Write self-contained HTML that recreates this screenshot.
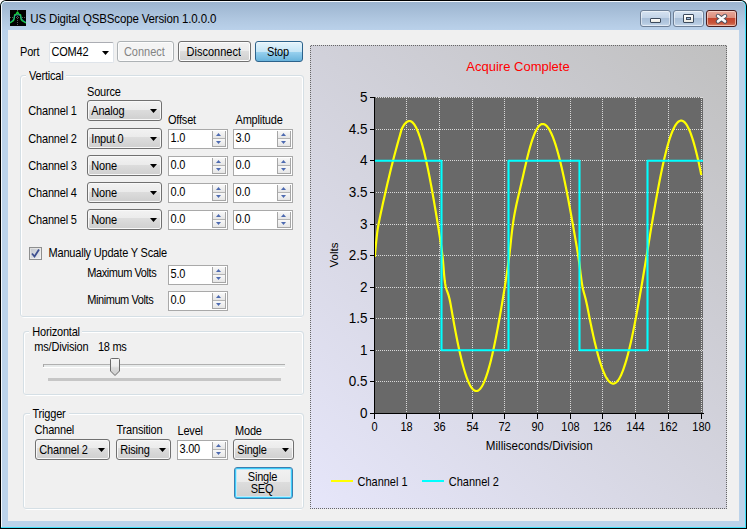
<!DOCTYPE html>
<html><head><meta charset="utf-8"><style>
html,body{margin:0;padding:0;width:747px;height:529px;overflow:hidden;background:#fff}
.t{position:absolute;white-space:nowrap;font-family:"Liberation Sans", sans-serif}
div{box-sizing:content-box}
</style></head><body>
<div style="position:absolute;left:0px;top:0px;width:747px;height:529px;background:#000;border-radius:6px 6px 0 0"></div><div style="position:absolute;left:1px;top:1px;width:745px;height:527px;background:#3fe0f8;border-radius:5px 5px 0 0"></div><div style="position:absolute;left:1px;top:1px;width:744px;height:526px;background:#f4f8fc;border-radius:5px 5px 0 0"></div><div style="position:absolute;left:2px;top:2px;width:743px;height:525px;background:linear-gradient(#9cb4cf 0px,#b3cae3 20px,#bad1ea 28px,#bcd3ea 40px);border-radius:4px 4px 0 0"></div><div style="position:absolute;left:8px;top:30px;width:731px;height:491px;background:#f0f0f0"></div><svg style="position:absolute;left:10px;top:10px" width="16" height="16" viewBox="0 0 16 16">
<rect width="16" height="16" fill="#000"/>
<line x1="0" y1="7.5" x2="16" y2="7.5" stroke="#5a5a5a" stroke-dasharray="1 1"/>
<line x1="7.5" y1="0" x2="7.5" y2="16" stroke="#5a5a5a" stroke-dasharray="1 1"/>
<path d="M0,12.8 L3,11 L4,9.5 L4.6,5 L6,4.3 L7.5,2 L9,4.3 L10.6,5 L11.2,9.5 L12.5,11 L16,12.8" fill="none" stroke="#19d23a" stroke-width="1.4" stroke-linejoin="round"/>
<path d="M0.5,12 L3,10 L4,8.5 L4.8,5.5 L6,5 L9,5 L10.4,5.5 L11.2,8.5 L12.5,10 L15.5,12" fill="none" stroke="#2a9ec0" stroke-width="0.7"/>
</svg><div class="t" style="left:30.3px;top:13.67px;font-size:11.5px;line-height:11.5px;color:#000;letter-spacing:-0.15px;transform-origin:0 9.73px;transform:scaleY(1.08);">US Digital QSBScope Version 1.0.0.0</div><div style="position:absolute;left:640px;top:10px;width:29px;height:15px;border:1px solid #6d7f96;border-radius:3px;background:linear-gradient(#d6e3f1 0%,#c3d4e8 45%,#a9bfd8 50%,#b3c8df 80%,#c8d9ec 100%);box-shadow:inset 0 0 0 1px rgba(255,255,255,0.5)"></div><div style="position:absolute;left:650px;top:18px;width:9px;height:3px;border:1px solid #3c4a5c;background:linear-gradient(#fff,#e8e8e0);border-radius:1px"></div><div style="position:absolute;left:673px;top:10px;width:29px;height:15px;border:1px solid #6d7f96;border-radius:3px;background:linear-gradient(#d6e3f1 0%,#c3d4e8 45%,#a9bfd8 50%,#b3c8df 80%,#c8d9ec 100%);box-shadow:inset 0 0 0 1px rgba(255,255,255,0.5)"></div><div style="position:absolute;left:683px;top:14px;width:9px;height:7px;border:1px solid #3c4a5c;background:linear-gradient(#fff,#ebebe4);border-radius:1px"></div><div style="position:absolute;left:686px;top:17px;width:3px;height:1px;border:1px solid #3c4a5c;background:#9cb8dc"></div><div style="position:absolute;left:706px;top:10px;width:29px;height:15px;border:1px solid #4a1c1c;border-radius:3px;background:linear-gradient(#e8a99c 0%,#dd8e7c 45%,#c5452e 50%,#c8553b 80%,#dc8a70 100%);box-shadow:inset 0 0 0 1px rgba(255,230,220,0.6)"></div><svg style="position:absolute;left:715px;top:13px" width="13" height="11" viewBox="0 0 13 11"><path d="M3,3 L10,8.4 M10,3 L3,8.4" stroke="#474c5c" stroke-width="4.4" stroke-linecap="round"/><path d="M3,3 L10,8.4 M10,3 L3,8.4" stroke="#fafafa" stroke-width="2.6" stroke-linecap="round"/></svg><div class="t" style="left:20.0px;top:46.69px;font-size:11px;line-height:11px;color:#000;letter-spacing:-0.2px;transform-origin:0 9.31px;transform:scaleY(1.12);">Port</div><div style="position:absolute;left:49px;top:42px;width:63px;height:19px;border:1px solid #dfe4ea;border-top-color:#abadb3;border-radius:2px;background:#fff"></div><div class="t" style="left:51.5px;top:46.69px;font-size:11px;line-height:11px;color:#000;letter-spacing:-0.2px;transform-origin:0 9.31px;transform:scaleY(1.12);">COM42</div><svg style="position:absolute;left:102px;top:51px" width="7" height="4" viewBox="0 0 7 4"><path d="M0,0 H7 L3.5,4 Z" fill="#000"/></svg><div style="position:absolute;left:117px;top:41px;width:55px;height:19px;border-radius:3px;border:1px solid #adb2b5;background:#f4f4f4;box-shadow:inset 0 0 0 1px #fcfcfc"></div><div class="t" style="left:84.4px;width:120px;text-align:center;top:46.69px;font-size:11px;line-height:11px;color:#838383;letter-spacing:0px;transform-origin:0 9.31px;transform:scaleY(1.12)">Connect</div><div style="position:absolute;left:178px;top:41px;width:71px;height:19px;border-radius:3px;border:1px solid #707070;background:linear-gradient(#f2f2f2 0%,#ebebeb 50%,#dddddd 50%,#cfcfcf 100%);box-shadow:inset 0 0 0 1px #fcfcfc"></div><div class="t" style="left:153.8px;width:120px;text-align:center;top:46.69px;font-size:11px;line-height:11px;color:#000;letter-spacing:0px;transform-origin:0 9.31px;transform:scaleY(1.12)">Disconnect</div><div style="position:absolute;left:255px;top:41px;width:46px;height:19px;border-radius:3px;border:1px solid #2c628b;background:linear-gradient(#e5f4fc 0px,#c4e5f6 10px,#98d1ef 10px,#68b3db 19px);box-shadow:inset 0 1px 0 0 #f0f8fc"></div><div class="t" style="left:218px;width:120px;text-align:center;top:46.69px;font-size:11px;line-height:11px;color:#000;letter-spacing:-0.2px;transform-origin:0 9.31px;transform:scaleY(1.12)">Stop</div><div style="position:absolute;left:21px;top:76px;width:280px;height:240px;border:1px solid #fff;border-radius:3px"></div><div style="position:absolute;left:20px;top:75px;width:282px;height:240px;border:1px solid #d5dfe5;border-radius:3px"></div><div style="position:absolute;left:26px;top:73px;width:40px;height:4px;background:#f0f0f0"></div><div class="t" style="left:29.0px;top:70.69px;font-size:11px;line-height:11px;color:#000;letter-spacing:-0.2px;transform-origin:0 9.31px;transform:scaleY(1.12);">Vertical</div><div class="t" style="left:87.0px;top:86.69px;font-size:11px;line-height:11px;color:#000;letter-spacing:-0.2px;transform-origin:0 9.31px;transform:scaleY(1.12);">Source</div><div class="t" style="left:168.0px;top:114.69px;font-size:11px;line-height:11px;color:#000;letter-spacing:-0.2px;transform-origin:0 9.31px;transform:scaleY(1.12);">Offset</div><div class="t" style="left:235.5px;top:114.69px;font-size:11px;line-height:11px;color:#000;letter-spacing:-0.2px;transform-origin:0 9.31px;transform:scaleY(1.12);">Amplitude</div><div class="t" style="left:28.3px;top:105.69px;font-size:11px;line-height:11px;color:#000;letter-spacing:-0.2px;transform-origin:0 9.31px;transform:scaleY(1.12);">Channel 1</div><div style="position:absolute;left:87px;top:100px;width:73px;height:19px;border-radius:3px;border:1px solid #707070;background:linear-gradient(#f2f2f2 0px,#ebebeb 8.5px,#dddddd 8.5px,#cfcfcf 19px);box-shadow:inset 0 0 0 1px #f8f8f8"></div><div class="t" style="left:91.3px;top:105.89px;font-size:11px;line-height:11px;color:#000;letter-spacing:-0.2px;transform-origin:0 9.31px;transform:scaleY(1.12);">Analog</div><svg style="position:absolute;left:150px;top:109px" width="7" height="4" viewBox="0 0 7 4"><path d="M0,0 H7 L3.5,4 Z" fill="#000"/></svg><div class="t" style="left:28.3px;top:133.69px;font-size:11px;line-height:11px;color:#000;letter-spacing:-0.2px;transform-origin:0 9.31px;transform:scaleY(1.12);">Channel 2</div><div style="position:absolute;left:87px;top:128px;width:73px;height:19px;border-radius:3px;border:1px solid #707070;background:linear-gradient(#f2f2f2 0px,#ebebeb 8.5px,#dddddd 8.5px,#cfcfcf 19px);box-shadow:inset 0 0 0 1px #f8f8f8"></div><div class="t" style="left:91.3px;top:133.89px;font-size:11px;line-height:11px;color:#000;letter-spacing:-0.2px;transform-origin:0 9.31px;transform:scaleY(1.12);">Input 0</div><svg style="position:absolute;left:150px;top:137px" width="7" height="4" viewBox="0 0 7 4"><path d="M0,0 H7 L3.5,4 Z" fill="#000"/></svg><div style="position:absolute;left:168px;top:129px;width:58px;height:18px;border:1px solid #a9a9a9;background:#fff"></div><div class="t" style="left:170.6px;top:133.29px;font-size:11px;line-height:11px;color:#000;letter-spacing:-0.3px;transform-origin:0 9.31px;transform:scaleY(1.12);">1.0</div><div style="position:absolute;left:212px;top:131px;width:12px;height:15px;border:1px solid #a6a6a6;border-top:none;background:#b4b4b4"></div><div style="position:absolute;left:213px;top:131px;width:12px;height:7px;background:linear-gradient(#f8f8f8,#e6e6e6)"></div><div style="position:absolute;left:213px;top:139px;width:12px;height:7px;background:linear-gradient(#f8f8f8,#e6e6e6)"></div><svg style="position:absolute;left:216px;top:133px" width="5" height="3" viewBox="0 0 5 3"><path d="M0,3 L2.5,0 L5,3 Z" fill="#4d6ab0"/></svg><svg style="position:absolute;left:216px;top:141px" width="5" height="3" viewBox="0 0 5 3"><path d="M0,0 L5,0 L2.5,3 Z" fill="#4d6ab0"/></svg><div style="position:absolute;left:233px;top:129px;width:58px;height:18px;border:1px solid #a9a9a9;background:#fff"></div><div class="t" style="left:235.6px;top:133.29px;font-size:11px;line-height:11px;color:#000;letter-spacing:-0.3px;transform-origin:0 9.31px;transform:scaleY(1.12);">3.0</div><div style="position:absolute;left:277px;top:131px;width:12px;height:15px;border:1px solid #a6a6a6;border-top:none;background:#b4b4b4"></div><div style="position:absolute;left:278px;top:131px;width:12px;height:7px;background:linear-gradient(#f8f8f8,#e6e6e6)"></div><div style="position:absolute;left:278px;top:139px;width:12px;height:7px;background:linear-gradient(#f8f8f8,#e6e6e6)"></div><svg style="position:absolute;left:281px;top:133px" width="5" height="3" viewBox="0 0 5 3"><path d="M0,3 L2.5,0 L5,3 Z" fill="#4d6ab0"/></svg><svg style="position:absolute;left:281px;top:141px" width="5" height="3" viewBox="0 0 5 3"><path d="M0,0 L5,0 L2.5,3 Z" fill="#4d6ab0"/></svg><div class="t" style="left:28.3px;top:160.69px;font-size:11px;line-height:11px;color:#000;letter-spacing:-0.2px;transform-origin:0 9.31px;transform:scaleY(1.12);">Channel 3</div><div style="position:absolute;left:87px;top:155px;width:73px;height:19px;border-radius:3px;border:1px solid #707070;background:linear-gradient(#f2f2f2 0px,#ebebeb 8.5px,#dddddd 8.5px,#cfcfcf 19px);box-shadow:inset 0 0 0 1px #f8f8f8"></div><div class="t" style="left:91.3px;top:160.89px;font-size:11px;line-height:11px;color:#000;letter-spacing:-0.2px;transform-origin:0 9.31px;transform:scaleY(1.12);">None</div><svg style="position:absolute;left:150px;top:164px" width="7" height="4" viewBox="0 0 7 4"><path d="M0,0 H7 L3.5,4 Z" fill="#000"/></svg><div style="position:absolute;left:168px;top:156px;width:58px;height:18px;border:1px solid #a9a9a9;background:#fff"></div><div class="t" style="left:170.6px;top:160.29px;font-size:11px;line-height:11px;color:#000;letter-spacing:-0.3px;transform-origin:0 9.31px;transform:scaleY(1.12);">0.0</div><div style="position:absolute;left:212px;top:158px;width:12px;height:15px;border:1px solid #a6a6a6;border-top:none;background:#b4b4b4"></div><div style="position:absolute;left:213px;top:158px;width:12px;height:7px;background:linear-gradient(#f8f8f8,#e6e6e6)"></div><div style="position:absolute;left:213px;top:166px;width:12px;height:7px;background:linear-gradient(#f8f8f8,#e6e6e6)"></div><svg style="position:absolute;left:216px;top:160px" width="5" height="3" viewBox="0 0 5 3"><path d="M0,3 L2.5,0 L5,3 Z" fill="#4d6ab0"/></svg><svg style="position:absolute;left:216px;top:168px" width="5" height="3" viewBox="0 0 5 3"><path d="M0,0 L5,0 L2.5,3 Z" fill="#4d6ab0"/></svg><div style="position:absolute;left:233px;top:156px;width:58px;height:18px;border:1px solid #a9a9a9;background:#fff"></div><div class="t" style="left:235.6px;top:160.29px;font-size:11px;line-height:11px;color:#000;letter-spacing:-0.3px;transform-origin:0 9.31px;transform:scaleY(1.12);">0.0</div><div style="position:absolute;left:277px;top:158px;width:12px;height:15px;border:1px solid #a6a6a6;border-top:none;background:#b4b4b4"></div><div style="position:absolute;left:278px;top:158px;width:12px;height:7px;background:linear-gradient(#f8f8f8,#e6e6e6)"></div><div style="position:absolute;left:278px;top:166px;width:12px;height:7px;background:linear-gradient(#f8f8f8,#e6e6e6)"></div><svg style="position:absolute;left:281px;top:160px" width="5" height="3" viewBox="0 0 5 3"><path d="M0,3 L2.5,0 L5,3 Z" fill="#4d6ab0"/></svg><svg style="position:absolute;left:281px;top:168px" width="5" height="3" viewBox="0 0 5 3"><path d="M0,0 L5,0 L2.5,3 Z" fill="#4d6ab0"/></svg><div class="t" style="left:28.3px;top:187.69px;font-size:11px;line-height:11px;color:#000;letter-spacing:-0.2px;transform-origin:0 9.31px;transform:scaleY(1.12);">Channel 4</div><div style="position:absolute;left:87px;top:182px;width:73px;height:19px;border-radius:3px;border:1px solid #707070;background:linear-gradient(#f2f2f2 0px,#ebebeb 8.5px,#dddddd 8.5px,#cfcfcf 19px);box-shadow:inset 0 0 0 1px #f8f8f8"></div><div class="t" style="left:91.3px;top:187.89px;font-size:11px;line-height:11px;color:#000;letter-spacing:-0.2px;transform-origin:0 9.31px;transform:scaleY(1.12);">None</div><svg style="position:absolute;left:150px;top:191px" width="7" height="4" viewBox="0 0 7 4"><path d="M0,0 H7 L3.5,4 Z" fill="#000"/></svg><div style="position:absolute;left:168px;top:183px;width:58px;height:18px;border:1px solid #a9a9a9;background:#fff"></div><div class="t" style="left:170.6px;top:187.29px;font-size:11px;line-height:11px;color:#000;letter-spacing:-0.3px;transform-origin:0 9.31px;transform:scaleY(1.12);">0.0</div><div style="position:absolute;left:212px;top:185px;width:12px;height:15px;border:1px solid #a6a6a6;border-top:none;background:#b4b4b4"></div><div style="position:absolute;left:213px;top:185px;width:12px;height:7px;background:linear-gradient(#f8f8f8,#e6e6e6)"></div><div style="position:absolute;left:213px;top:193px;width:12px;height:7px;background:linear-gradient(#f8f8f8,#e6e6e6)"></div><svg style="position:absolute;left:216px;top:187px" width="5" height="3" viewBox="0 0 5 3"><path d="M0,3 L2.5,0 L5,3 Z" fill="#4d6ab0"/></svg><svg style="position:absolute;left:216px;top:195px" width="5" height="3" viewBox="0 0 5 3"><path d="M0,0 L5,0 L2.5,3 Z" fill="#4d6ab0"/></svg><div style="position:absolute;left:233px;top:183px;width:58px;height:18px;border:1px solid #a9a9a9;background:#fff"></div><div class="t" style="left:235.6px;top:187.29px;font-size:11px;line-height:11px;color:#000;letter-spacing:-0.3px;transform-origin:0 9.31px;transform:scaleY(1.12);">0.0</div><div style="position:absolute;left:277px;top:185px;width:12px;height:15px;border:1px solid #a6a6a6;border-top:none;background:#b4b4b4"></div><div style="position:absolute;left:278px;top:185px;width:12px;height:7px;background:linear-gradient(#f8f8f8,#e6e6e6)"></div><div style="position:absolute;left:278px;top:193px;width:12px;height:7px;background:linear-gradient(#f8f8f8,#e6e6e6)"></div><svg style="position:absolute;left:281px;top:187px" width="5" height="3" viewBox="0 0 5 3"><path d="M0,3 L2.5,0 L5,3 Z" fill="#4d6ab0"/></svg><svg style="position:absolute;left:281px;top:195px" width="5" height="3" viewBox="0 0 5 3"><path d="M0,0 L5,0 L2.5,3 Z" fill="#4d6ab0"/></svg><div class="t" style="left:28.3px;top:214.69px;font-size:11px;line-height:11px;color:#000;letter-spacing:-0.2px;transform-origin:0 9.31px;transform:scaleY(1.12);">Channel 5</div><div style="position:absolute;left:87px;top:209px;width:73px;height:19px;border-radius:3px;border:1px solid #707070;background:linear-gradient(#f2f2f2 0px,#ebebeb 8.5px,#dddddd 8.5px,#cfcfcf 19px);box-shadow:inset 0 0 0 1px #f8f8f8"></div><div class="t" style="left:91.3px;top:214.89px;font-size:11px;line-height:11px;color:#000;letter-spacing:-0.2px;transform-origin:0 9.31px;transform:scaleY(1.12);">None</div><svg style="position:absolute;left:150px;top:218px" width="7" height="4" viewBox="0 0 7 4"><path d="M0,0 H7 L3.5,4 Z" fill="#000"/></svg><div style="position:absolute;left:168px;top:210px;width:58px;height:18px;border:1px solid #a9a9a9;background:#fff"></div><div class="t" style="left:170.6px;top:214.29px;font-size:11px;line-height:11px;color:#000;letter-spacing:-0.3px;transform-origin:0 9.31px;transform:scaleY(1.12);">0.0</div><div style="position:absolute;left:212px;top:212px;width:12px;height:15px;border:1px solid #a6a6a6;border-top:none;background:#b4b4b4"></div><div style="position:absolute;left:213px;top:212px;width:12px;height:7px;background:linear-gradient(#f8f8f8,#e6e6e6)"></div><div style="position:absolute;left:213px;top:220px;width:12px;height:7px;background:linear-gradient(#f8f8f8,#e6e6e6)"></div><svg style="position:absolute;left:216px;top:214px" width="5" height="3" viewBox="0 0 5 3"><path d="M0,3 L2.5,0 L5,3 Z" fill="#4d6ab0"/></svg><svg style="position:absolute;left:216px;top:222px" width="5" height="3" viewBox="0 0 5 3"><path d="M0,0 L5,0 L2.5,3 Z" fill="#4d6ab0"/></svg><div style="position:absolute;left:233px;top:210px;width:58px;height:18px;border:1px solid #a9a9a9;background:#fff"></div><div class="t" style="left:235.6px;top:214.29px;font-size:11px;line-height:11px;color:#000;letter-spacing:-0.3px;transform-origin:0 9.31px;transform:scaleY(1.12);">0.0</div><div style="position:absolute;left:277px;top:212px;width:12px;height:15px;border:1px solid #a6a6a6;border-top:none;background:#b4b4b4"></div><div style="position:absolute;left:278px;top:212px;width:12px;height:7px;background:linear-gradient(#f8f8f8,#e6e6e6)"></div><div style="position:absolute;left:278px;top:220px;width:12px;height:7px;background:linear-gradient(#f8f8f8,#e6e6e6)"></div><svg style="position:absolute;left:281px;top:214px" width="5" height="3" viewBox="0 0 5 3"><path d="M0,3 L2.5,0 L5,3 Z" fill="#4d6ab0"/></svg><svg style="position:absolute;left:281px;top:222px" width="5" height="3" viewBox="0 0 5 3"><path d="M0,0 L5,0 L2.5,3 Z" fill="#4d6ab0"/></svg><div style="position:absolute;left:29px;top:247px;width:11px;height:11px;border:1px solid #8e8f8f;background:linear-gradient(135deg,#dcdcdc,#f4f4f4)"></div><div style="position:absolute;left:31px;top:249px;width:9px;height:9px;background:linear-gradient(135deg,#c5c9d0,#e8eaee)"></div><svg style="position:absolute;left:30px;top:248px" width="11" height="11" viewBox="0 0 11 11"><path d="M2,5.5 L4.5,8.5 L9,1.5" fill="none" stroke="#3d4f8f" stroke-width="1.8"/></svg><div class="t" style="left:48.5px;top:247.69px;font-size:11px;line-height:11px;color:#000;letter-spacing:-0.2px;transform-origin:0 9.31px;transform:scaleY(1.12);">Manually Update Y Scale</div><div class="t" style="left:87.2px;top:267.69px;font-size:11px;line-height:11px;color:#000;letter-spacing:-0.42px;transform-origin:0 9.31px;transform:scaleY(1.12);">Maximum Volts</div><div style="position:absolute;left:168px;top:265px;width:58px;height:18px;border:1px solid #a9a9a9;background:#fff"></div><div class="t" style="left:170.6px;top:269.29px;font-size:11px;line-height:11px;color:#000;letter-spacing:-0.3px;transform-origin:0 9.31px;transform:scaleY(1.12);">5.0</div><div style="position:absolute;left:212px;top:267px;width:12px;height:15px;border:1px solid #a6a6a6;border-top:none;background:#b4b4b4"></div><div style="position:absolute;left:213px;top:267px;width:12px;height:7px;background:linear-gradient(#f8f8f8,#e6e6e6)"></div><div style="position:absolute;left:213px;top:275px;width:12px;height:7px;background:linear-gradient(#f8f8f8,#e6e6e6)"></div><svg style="position:absolute;left:216px;top:269px" width="5" height="3" viewBox="0 0 5 3"><path d="M0,3 L2.5,0 L5,3 Z" fill="#4d6ab0"/></svg><svg style="position:absolute;left:216px;top:277px" width="5" height="3" viewBox="0 0 5 3"><path d="M0,0 L5,0 L2.5,3 Z" fill="#4d6ab0"/></svg><div class="t" style="left:87.2px;top:294.69px;font-size:11px;line-height:11px;color:#000;letter-spacing:-0.42px;transform-origin:0 9.31px;transform:scaleY(1.12);">Minimum Volts</div><div style="position:absolute;left:168px;top:291px;width:58px;height:18px;border:1px solid #a9a9a9;background:#fff"></div><div class="t" style="left:170.6px;top:295.29px;font-size:11px;line-height:11px;color:#000;letter-spacing:-0.3px;transform-origin:0 9.31px;transform:scaleY(1.12);">0.0</div><div style="position:absolute;left:212px;top:293px;width:12px;height:15px;border:1px solid #a6a6a6;border-top:none;background:#b4b4b4"></div><div style="position:absolute;left:213px;top:293px;width:12px;height:7px;background:linear-gradient(#f8f8f8,#e6e6e6)"></div><div style="position:absolute;left:213px;top:301px;width:12px;height:7px;background:linear-gradient(#f8f8f8,#e6e6e6)"></div><svg style="position:absolute;left:216px;top:295px" width="5" height="3" viewBox="0 0 5 3"><path d="M0,3 L2.5,0 L5,3 Z" fill="#4d6ab0"/></svg><svg style="position:absolute;left:216px;top:303px" width="5" height="3" viewBox="0 0 5 3"><path d="M0,0 L5,0 L2.5,3 Z" fill="#4d6ab0"/></svg><div style="position:absolute;left:24px;top:332px;width:277px;height:62px;border:1px solid #fff;border-radius:3px"></div><div style="position:absolute;left:23px;top:331px;width:279px;height:62px;border:1px solid #d5dfe5;border-radius:3px"></div><div style="position:absolute;left:29.299999999999997px;top:329px;width:53px;height:4px;background:#f0f0f0"></div><div class="t" style="left:32.3px;top:326.69px;font-size:11px;line-height:11px;color:#000;letter-spacing:-0.2px;transform-origin:0 9.31px;transform:scaleY(1.12);">Horizontal</div><div class="t" style="left:34.3px;top:341.69px;font-size:11px;line-height:11px;color:#000;letter-spacing:-0.2px;transform-origin:0 9.31px;transform:scaleY(1.12);">ms/Division</div><div class="t" style="left:98.0px;top:341.69px;font-size:11px;line-height:11px;color:#000;letter-spacing:-0.3px;transform-origin:0 9.31px;transform:scaleY(1.12);">18 ms</div><div style="position:absolute;left:43px;top:364px;width:242px;height:4px;background:linear-gradient(#b0b0b0 0 1px,#e7eaea 1px 3px,#fff 3px)"></div><div style="position:absolute;left:43px;top:364px;width:1px;height:3px;background:#a8a8a8"></div><div style="position:absolute;left:48px;top:378px;width:233px;height:3px;background:#c6c6c6"></div><svg style="position:absolute;left:109px;top:357px" width="12" height="20" viewBox="0 0 12 20"><defs><linearGradient id="tg" x1="0" y1="0" x2="0" y2="1"><stop offset="0" stop-color="#f6f6f6"/><stop offset="0.45" stop-color="#ececec"/><stop offset="0.55" stop-color="#dadada"/><stop offset="1" stop-color="#d0d0d0"/></linearGradient></defs><path d="M1.5,2.5 Q1.5,1.5 2.5,1.5 H9.5 Q10.5,1.5 10.5,2.5 V14 L6,18.5 L1.5,14 Z" fill="url(#tg)" stroke="#6b6b6b" stroke-width="1"/></svg><div style="position:absolute;left:24px;top:414px;width:277px;height:94px;border:1px solid #fff;border-radius:3px"></div><div style="position:absolute;left:23px;top:413px;width:279px;height:94px;border:1px solid #d5dfe5;border-radius:3px"></div><div style="position:absolute;left:29.5px;top:411px;width:39px;height:4px;background:#f0f0f0"></div><div class="t" style="left:32.5px;top:409.19px;font-size:11px;line-height:11px;color:#000;letter-spacing:-0.2px;transform-origin:0 9.31px;transform:scaleY(1.12);">Trigger</div><div class="t" style="left:34.5px;top:424.69px;font-size:11px;line-height:11px;color:#000;letter-spacing:-0.2px;transform-origin:0 9.31px;transform:scaleY(1.12);">Channel</div><div class="t" style="left:116.5px;top:424.69px;font-size:11px;line-height:11px;color:#000;letter-spacing:-0.2px;transform-origin:0 9.31px;transform:scaleY(1.12);">Transition</div><div class="t" style="left:177.5px;top:425.69px;font-size:11px;line-height:11px;color:#000;letter-spacing:-0.2px;transform-origin:0 9.31px;transform:scaleY(1.12);">Level</div><div class="t" style="left:235.0px;top:425.69px;font-size:11px;line-height:11px;color:#000;letter-spacing:-0.2px;transform-origin:0 9.31px;transform:scaleY(1.12);">Mode</div><div style="position:absolute;left:35px;top:439px;width:73px;height:19px;border-radius:3px;border:1px solid #707070;background:linear-gradient(#f2f2f2 0px,#ebebeb 8.5px,#dddddd 8.5px,#cfcfcf 19px);box-shadow:inset 0 0 0 1px #f8f8f8"></div><div class="t" style="left:39.3px;top:444.89px;font-size:11px;line-height:11px;color:#000;letter-spacing:-0.2px;transform-origin:0 9.31px;transform:scaleY(1.12);">Channel 2</div><svg style="position:absolute;left:98px;top:448px" width="7" height="4" viewBox="0 0 7 4"><path d="M0,0 H7 L3.5,4 Z" fill="#000"/></svg><div style="position:absolute;left:116px;top:439px;width:53px;height:19px;border-radius:3px;border:1px solid #707070;background:linear-gradient(#f2f2f2 0px,#ebebeb 8.5px,#dddddd 8.5px,#cfcfcf 19px);box-shadow:inset 0 0 0 1px #f8f8f8"></div><div class="t" style="left:120.3px;top:444.89px;font-size:11px;line-height:11px;color:#000;letter-spacing:-0.2px;transform-origin:0 9.31px;transform:scaleY(1.12);">Rising</div><svg style="position:absolute;left:159px;top:448px" width="7" height="4" viewBox="0 0 7 4"><path d="M0,0 H7 L3.5,4 Z" fill="#000"/></svg><div style="position:absolute;left:177px;top:440px;width:49px;height:18px;border:1px solid #a9a9a9;background:#fff"></div><div class="t" style="left:179.6px;top:444.29px;font-size:11px;line-height:11px;color:#000;letter-spacing:-0.3px;transform-origin:0 9.31px;transform:scaleY(1.12);">3.00</div><div style="position:absolute;left:212px;top:442px;width:12px;height:15px;border:1px solid #a6a6a6;border-top:none;background:#b4b4b4"></div><div style="position:absolute;left:213px;top:442px;width:12px;height:7px;background:linear-gradient(#f8f8f8,#e6e6e6)"></div><div style="position:absolute;left:213px;top:450px;width:12px;height:7px;background:linear-gradient(#f8f8f8,#e6e6e6)"></div><svg style="position:absolute;left:216px;top:444px" width="5" height="3" viewBox="0 0 5 3"><path d="M0,3 L2.5,0 L5,3 Z" fill="#4d6ab0"/></svg><svg style="position:absolute;left:216px;top:452px" width="5" height="3" viewBox="0 0 5 3"><path d="M0,0 L5,0 L2.5,3 Z" fill="#4d6ab0"/></svg><div style="position:absolute;left:233px;top:439px;width:59px;height:19px;border-radius:3px;border:1px solid #707070;background:linear-gradient(#f2f2f2 0px,#ebebeb 8.5px,#dddddd 8.5px,#cfcfcf 19px);box-shadow:inset 0 0 0 1px #f8f8f8"></div><div class="t" style="left:237.3px;top:444.89px;font-size:11px;line-height:11px;color:#000;letter-spacing:-0.2px;transform-origin:0 9.31px;transform:scaleY(1.12);">Single</div><svg style="position:absolute;left:282px;top:448px" width="7" height="4" viewBox="0 0 7 4"><path d="M0,0 H7 L3.5,4 Z" fill="#000"/></svg><div style="position:absolute;left:234px;top:467px;width:57px;height:30px;border-radius:3px;border:1px solid #3c7fb1;background:linear-gradient(#f2f2f2 0px,#ebebeb 14px,#dddddd 14px,#cfcfcf 30px);box-shadow:inset 0 0 0 1px #3fcdf9, inset 0 0 0 2px #bdeafb"></div><div class="t" style="left:202.5px;width:120px;text-align:center;top:471.69px;font-size:11px;line-height:11px;color:#000;letter-spacing:-0.2px;transform-origin:0 9.31px;transform:scaleY(1.12)">Single</div><div class="t" style="left:202px;width:120px;text-align:center;top:484.19px;font-size:11px;line-height:11px;color:#000;letter-spacing:-0.2px;transform-origin:0 9.31px;transform:scaleY(1.12)">SEQ</div><svg style="position:absolute;left:0;top:0" width="747" height="529" viewBox="0 0 747 529">
<defs><linearGradient id="cbg" gradientUnits="userSpaceOnUse" x1="726" y1="45" x2="310" y2="508"><stop offset="0" stop-color="#c0c0c0"/><stop offset="1" stop-color="#e6e6fa"/></linearGradient></defs>
<rect x="310" y="45" width="417" height="464" fill="url(#cbg)"/>
<g fill="none" stroke="#666666" stroke-width="1" stroke-dasharray="1 1"><line x1="311" y1="45.5" x2="727" y2="45.5"/><line x1="310" y1="508.5" x2="727" y2="508.5"/><line x1="310.5" y1="46" x2="310.5" y2="509"/><line x1="726.5" y1="46" x2="726.5" y2="509"/></g>
<rect x="375" y="97" width="328" height="316" fill="#696969"/>
<g fill="none" stroke="#dadada" stroke-width="1" stroke-dasharray="1 1">
<line x1="406.5" y1="97" x2="406.5" y2="413"/>
<line x1="439.5" y1="97" x2="439.5" y2="413"/>
<line x1="472.5" y1="97" x2="472.5" y2="413"/>
<line x1="504.5" y1="97" x2="504.5" y2="413"/>
<line x1="537.5" y1="97" x2="537.5" y2="413"/>
<line x1="570.5" y1="97" x2="570.5" y2="413"/>
<line x1="602.5" y1="97" x2="602.5" y2="413"/>
<line x1="635.5" y1="97" x2="635.5" y2="413"/>
<line x1="668.5" y1="97" x2="668.5" y2="413"/>
<line x1="701.5" y1="97" x2="701.5" y2="413"/>
<line x1="376" y1="97.5" x2="703" y2="97.5"/>
<line x1="376" y1="129.5" x2="703" y2="129.5"/>
<line x1="376" y1="160.5" x2="703" y2="160.5"/>
<line x1="376" y1="192.5" x2="703" y2="192.5"/>
<line x1="376" y1="224.5" x2="703" y2="224.5"/>
<line x1="376" y1="255.5" x2="703" y2="255.5"/>
<line x1="376" y1="287.5" x2="703" y2="287.5"/>
<line x1="376" y1="318.5" x2="703" y2="318.5"/>
<line x1="376" y1="350.5" x2="703" y2="350.5"/>
<line x1="376" y1="381.5" x2="703" y2="381.5"/>
</g>
<rect x="374" y="97" width="1" height="322" fill="#000"/>
<rect x="370" y="413" width="334" height="1" fill="#000"/>
<rect x="370" y="97" width="4" height="1" fill="#000"/>
<rect x="370" y="129" width="4" height="1" fill="#000"/>
<rect x="370" y="160" width="4" height="1" fill="#000"/>
<rect x="370" y="192" width="4" height="1" fill="#000"/>
<rect x="370" y="224" width="4" height="1" fill="#000"/>
<rect x="370" y="255" width="4" height="1" fill="#000"/>
<rect x="370" y="287" width="4" height="1" fill="#000"/>
<rect x="370" y="318" width="4" height="1" fill="#000"/>
<rect x="370" y="350" width="4" height="1" fill="#000"/>
<rect x="370" y="381" width="4" height="1" fill="#000"/>
<rect x="406" y="414" width="1" height="5" fill="#000"/>
<rect x="439" y="414" width="1" height="5" fill="#000"/>
<rect x="472" y="414" width="1" height="5" fill="#000"/>
<rect x="504" y="414" width="1" height="5" fill="#000"/>
<rect x="537" y="414" width="1" height="5" fill="#000"/>
<rect x="570" y="414" width="1" height="5" fill="#000"/>
<rect x="602" y="414" width="1" height="5" fill="#000"/>
<rect x="635" y="414" width="1" height="5" fill="#000"/>
<rect x="668" y="414" width="1" height="5" fill="#000"/>
<rect x="701" y="414" width="1" height="5" fill="#000"/>
<text transform="translate(367.6,102) scale(1,1.1)" x="0" y="0" text-anchor="end" font-family="'Liberation Sans', sans-serif" font-size="13.5" fill="#000">5</text>
<text transform="translate(367.6,134) scale(1,1.1)" x="0" y="0" text-anchor="end" font-family="'Liberation Sans', sans-serif" font-size="13.5" fill="#000">4.5</text>
<text transform="translate(367.6,165) scale(1,1.1)" x="0" y="0" text-anchor="end" font-family="'Liberation Sans', sans-serif" font-size="13.5" fill="#000">4</text>
<text transform="translate(367.6,197) scale(1,1.1)" x="0" y="0" text-anchor="end" font-family="'Liberation Sans', sans-serif" font-size="13.5" fill="#000">3.5</text>
<text transform="translate(367.6,229) scale(1,1.1)" x="0" y="0" text-anchor="end" font-family="'Liberation Sans', sans-serif" font-size="13.5" fill="#000">3</text>
<text transform="translate(367.6,260) scale(1,1.1)" x="0" y="0" text-anchor="end" font-family="'Liberation Sans', sans-serif" font-size="13.5" fill="#000">2.5</text>
<text transform="translate(367.6,292) scale(1,1.1)" x="0" y="0" text-anchor="end" font-family="'Liberation Sans', sans-serif" font-size="13.5" fill="#000">2</text>
<text transform="translate(367.6,323) scale(1,1.1)" x="0" y="0" text-anchor="end" font-family="'Liberation Sans', sans-serif" font-size="13.5" fill="#000">1.5</text>
<text transform="translate(367.6,355) scale(1,1.1)" x="0" y="0" text-anchor="end" font-family="'Liberation Sans', sans-serif" font-size="13.5" fill="#000">1</text>
<text transform="translate(367.6,386) scale(1,1.1)" x="0" y="0" text-anchor="end" font-family="'Liberation Sans', sans-serif" font-size="13.5" fill="#000">0.5</text>
<text transform="translate(367.6,418) scale(1,1.1)" x="0" y="0" text-anchor="end" font-family="'Liberation Sans', sans-serif" font-size="13.5" fill="#000">0</text>
<text transform="translate(374.5,431) scale(1,1.12)" x="0" y="0" text-anchor="middle" font-family="'Liberation Sans', sans-serif" font-size="11" fill="#000">0</text>
<text transform="translate(406.5,431) scale(1,1.12)" x="0" y="0" text-anchor="middle" font-family="'Liberation Sans', sans-serif" font-size="11" fill="#000">18</text>
<text transform="translate(439.5,431) scale(1,1.12)" x="0" y="0" text-anchor="middle" font-family="'Liberation Sans', sans-serif" font-size="11" fill="#000">36</text>
<text transform="translate(472.5,431) scale(1,1.12)" x="0" y="0" text-anchor="middle" font-family="'Liberation Sans', sans-serif" font-size="11" fill="#000">54</text>
<text transform="translate(504.5,431) scale(1,1.12)" x="0" y="0" text-anchor="middle" font-family="'Liberation Sans', sans-serif" font-size="11" fill="#000">72</text>
<text transform="translate(537.5,431) scale(1,1.12)" x="0" y="0" text-anchor="middle" font-family="'Liberation Sans', sans-serif" font-size="11" fill="#000">90</text>
<text transform="translate(570.5,431) scale(1,1.12)" x="0" y="0" text-anchor="middle" font-family="'Liberation Sans', sans-serif" font-size="11" fill="#000">108</text>
<text transform="translate(602.5,431) scale(1,1.12)" x="0" y="0" text-anchor="middle" font-family="'Liberation Sans', sans-serif" font-size="11" fill="#000">126</text>
<text transform="translate(635.5,431) scale(1,1.12)" x="0" y="0" text-anchor="middle" font-family="'Liberation Sans', sans-serif" font-size="11" fill="#000">144</text>
<text transform="translate(668.5,431) scale(1,1.12)" x="0" y="0" text-anchor="middle" font-family="'Liberation Sans', sans-serif" font-size="11" fill="#000">162</text>
<text transform="translate(701.5,431) scale(1,1.12)" x="0" y="0" text-anchor="middle" font-family="'Liberation Sans', sans-serif" font-size="11" fill="#000">180</text>
<text transform="translate(539.3,450) scale(1,1.08)" x="0" y="0" text-anchor="middle" font-family="'Liberation Sans', sans-serif" font-size="11.6" fill="#000">Milliseconds/Division</text>
<text transform="translate(338,255) rotate(-90)" x="0" y="0" text-anchor="middle" font-family="'Liberation Sans', sans-serif" font-size="11.5" fill="#000">Volts</text>
<text x="518" y="71" text-anchor="middle" font-family="'Liberation Sans', sans-serif" font-size="13" fill="#ff0000">Acquire Complete</text>
<rect x="331" y="480" width="22" height="2" fill="#ffff00"/>
<text transform="translate(357.5,486) scale(1,1.1)" x="0" y="0" font-family="'Liberation Sans', sans-serif" font-size="11" fill="#000">Channel 1</text>
<rect x="422" y="480" width="22" height="2" fill="#00ffff"/>
<text transform="translate(448.8,486) scale(1,1.1)" x="0" y="0" font-family="'Liberation Sans', sans-serif" font-size="11" fill="#000">Channel 2</text>
<clipPath id="pc"><rect x="375" y="96" width="329" height="317"/></clipPath>
<path d="M374.80,257.00 L374.91,255.78 L375.04,254.35 L375.18,252.75 L375.33,251.02 L375.49,249.19 L375.66,247.30 L375.84,245.40 L376.02,243.53 L376.21,241.71 L376.40,240.00 L376.57,238.43 L376.73,236.99 L376.87,235.63 L377.01,234.30 L377.17,232.94 L377.35,231.50 L377.58,229.94 L377.85,228.21 L378.19,226.24 L378.60,224.00 L379.10,221.45 L379.67,218.62 L380.30,215.58 L380.98,212.35 L381.71,209.00 L382.46,205.57 L383.22,202.10 L383.99,198.66 L384.76,195.27 L385.50,192.00 L386.23,188.80 L386.98,185.58 L387.73,182.37 L388.48,179.15 L389.25,175.93 L390.02,172.72 L390.81,169.52 L391.60,166.33 L392.39,163.16 L393.20,160.00 L394.05,156.73 L394.97,153.28 L395.93,149.73 L396.90,146.16 L397.87,142.66 L398.80,139.31 L399.68,136.19 L400.47,133.39 L401.15,130.99 L401.70,129.07 L402.20,128.07 L402.70,127.13 L403.20,126.25 L403.70,125.44 L404.20,124.70 L404.70,124.03 L405.20,123.42 L405.70,122.88 L406.20,122.41 L406.70,122.00 L407.20,121.67 L407.70,121.40 L408.20,121.20 L408.70,121.07 L409.20,121.01 L409.70,121.01 L410.20,121.10 L410.70,121.25 L411.20,121.48 L411.70,121.79 L412.20,122.17 L412.70,122.62 L413.20,123.14 L413.70,123.74 L414.20,124.42 L414.70,125.16 L415.20,125.98 L415.70,126.86 L416.20,127.82 L416.70,128.85 L417.20,129.96 L417.70,131.13 L418.20,132.36 L418.70,133.67 L419.20,135.05 L419.70,136.49 L420.20,137.99 L420.70,139.56 L421.20,141.20 L421.70,142.90 L422.20,144.66 L422.70,146.49 L423.20,148.37 L423.70,150.31 L424.20,152.31 L424.70,154.37 L425.20,156.49 L425.70,158.65 L426.20,160.88 L426.70,163.15 L427.20,165.48 L427.70,167.86 L428.20,170.28 L428.70,172.75 L429.20,175.27 L429.70,177.83 L430.20,180.44 L430.70,183.09 L431.20,185.77 L431.70,188.50 L432.20,191.26 L432.70,194.06 L433.20,196.90 L433.70,199.76 L434.20,202.66 L434.70,205.58 L435.20,208.54 L435.70,211.52 L436.20,214.52 L436.70,217.55 L437.20,220.60 L437.70,223.67 L438.20,226.75 L438.70,229.86 L439.19,232.97 L439.68,236.10 L440.17,239.24 L440.65,242.39 L441.12,245.55 L441.56,248.71 L441.98,251.88 L442.37,255.05 L442.72,258.22 L443.04,261.39 L443.31,264.55 L443.57,267.71 L443.81,270.87 L444.06,274.01 L444.35,277.15 L444.69,280.27 L445.11,283.39 L445.66,286.48 L446.58,289.56 L447.67,292.62 L448.68,295.66 L449.49,298.68 L450.13,301.68 L450.68,304.65 L451.20,307.59 L451.70,310.50 L452.20,313.39 L452.70,316.24 L453.20,319.06 L453.70,321.85 L454.20,324.60 L454.70,327.31 L455.20,329.98 L455.70,332.61 L456.20,335.20 L456.70,337.74 L457.20,340.24 L457.70,342.70 L458.20,345.10 L458.70,347.46 L459.20,349.76 L459.70,352.02 L460.20,354.22 L460.70,356.37 L461.20,358.46 L461.70,360.49 L462.20,362.47 L462.70,364.39 L463.20,366.25 L463.70,368.05 L464.20,369.79 L464.70,371.46 L465.20,373.07 L465.70,374.62 L466.20,376.10 L466.70,377.51 L467.20,378.86 L467.70,380.14 L468.20,381.35 L468.70,382.49 L469.20,383.57 L469.70,384.57 L470.20,385.50 L470.70,386.36 L471.20,387.15 L471.70,387.86 L472.20,388.51 L472.70,389.08 L473.20,389.57 L473.70,390.00 L474.20,390.34 L474.70,390.62 L475.20,390.82 L475.70,390.95 L476.20,391.00 L476.70,390.98 L477.20,390.88 L477.70,390.71 L478.20,390.46 L478.70,390.14 L479.20,389.75 L479.70,389.28 L480.20,388.73 L480.70,388.12 L481.20,387.43 L481.70,386.67 L482.20,385.83 L482.70,384.93 L483.20,383.95 L483.70,382.90 L484.20,381.78 L484.70,380.59 L485.20,379.34 L485.70,378.01 L486.20,376.62 L486.70,375.16 L487.20,373.64 L487.70,372.05 L488.20,370.39 L488.70,368.68 L489.20,366.90 L489.70,365.06 L490.20,363.16 L490.70,361.20 L491.20,359.18 L491.70,357.10 L492.20,354.97 L492.70,352.79 L493.20,350.55 L493.70,348.26 L494.20,345.92 L494.70,343.53 L495.20,341.09 L495.70,338.60 L496.20,336.07 L496.70,333.50 L497.20,330.88 L497.70,328.22 L498.20,325.52 L498.70,322.79 L499.20,320.01 L499.70,317.21 L500.20,314.36 L500.70,311.49 L501.20,308.59 L501.70,305.66 L502.20,302.70 L502.70,299.71 L503.20,296.71 L503.69,293.68 L504.19,290.63 L504.68,287.56 L505.17,284.47 L505.66,281.37 L506.14,278.26 L506.62,275.13 L507.08,272.00 L507.54,268.86 L507.98,265.71 L508.41,262.55 L508.82,259.39 L509.22,256.24 L509.60,253.08 L509.96,249.92 L510.31,246.77 L510.65,243.63 L510.98,240.49 L511.31,237.36 L511.65,234.25 L512.01,231.15 L512.39,228.06 L512.79,224.99 L513.23,221.93 L513.70,218.90 L514.21,215.89 L514.75,212.90 L515.32,209.93 L515.92,207.00 L516.54,204.09 L517.18,201.21 L517.83,198.36 L518.48,195.55 L519.13,192.77 L519.77,190.02 L520.40,187.32 L521.02,184.65 L521.63,182.02 L522.23,179.44 L522.82,176.90 L523.39,174.41 L523.95,171.96 L524.50,169.56 L525.04,167.21 L525.57,164.90 L526.10,162.66 L526.62,160.46 L527.14,158.32 L527.65,156.23 L528.16,154.20 L528.67,152.23 L529.18,150.32 L529.68,148.47 L530.19,146.67 L530.69,144.94 L531.19,143.28 L531.69,141.68 L532.19,140.14 L532.70,138.67 L533.20,137.26 L533.70,135.92 L534.20,134.65 L534.70,133.45 L535.20,132.32 L535.70,131.26 L536.20,130.26 L536.70,129.34 L537.20,128.49 L537.70,127.72 L538.20,127.01 L538.70,126.38 L539.20,125.83 L539.70,125.34 L540.20,124.93 L540.70,124.60 L541.20,124.34 L541.70,124.15 L542.20,124.04 L542.70,124.00 L543.20,124.03 L543.70,124.13 L544.20,124.29 L544.70,124.52 L545.20,124.80 L545.70,125.16 L546.20,125.58 L546.70,126.06 L547.20,126.60 L547.70,127.21 L548.20,127.88 L548.70,128.61 L549.20,129.41 L549.70,130.26 L550.20,131.18 L550.70,132.16 L551.20,133.20 L551.70,134.30 L552.20,135.46 L552.70,136.68 L553.20,137.95 L553.70,139.28 L554.20,140.67 L554.70,142.12 L555.20,143.62 L555.70,145.18 L556.20,146.79 L556.70,148.45 L557.20,150.17 L557.70,151.93 L558.20,153.75 L558.70,155.62 L559.20,157.53 L559.70,159.50 L560.20,161.51 L560.70,163.56 L561.20,165.67 L561.70,167.81 L562.20,170.00 L562.70,172.23 L563.20,174.50 L563.70,176.81 L564.20,179.15 L564.70,181.54 L565.20,183.96 L565.70,186.41 L566.20,188.90 L566.70,191.42 L567.20,193.97 L567.70,196.55 L568.20,199.16 L568.70,201.80 L569.20,204.46 L569.70,207.15 L570.20,209.86 L570.70,212.59 L571.20,215.34 L571.70,218.11 L572.20,220.90 L572.70,223.71 L573.20,226.53 L573.70,229.36 L574.20,232.21 L574.70,235.07 L575.20,237.93 L575.69,240.81 L576.19,243.69 L576.68,246.57 L577.16,249.46 L577.64,252.35 L578.10,255.25 L578.55,258.14 L578.98,261.03 L579.38,263.91 L579.77,266.79 L580.13,269.67 L580.49,272.53 L580.84,275.39 L581.21,278.24 L581.60,281.07 L582.03,283.89 L582.50,286.70 L583.07,289.49 L583.79,292.26 L584.57,295.01 L585.32,297.74 L586.00,300.45 L586.61,303.14 L587.16,305.80 L587.69,308.44 L588.20,311.05 L588.70,313.63 L589.20,316.18 L589.70,318.70 L590.20,321.19 L590.70,323.64 L591.20,326.06 L591.70,328.45 L592.20,330.79 L592.70,333.10 L593.20,335.37 L593.70,337.60 L594.20,339.79 L594.70,341.93 L595.20,344.04 L595.70,346.09 L596.20,348.10 L596.70,350.07 L597.20,351.98 L597.70,353.85 L598.20,355.67 L598.70,357.43 L599.20,359.15 L599.70,360.81 L600.20,362.42 L600.70,363.98 L601.20,365.48 L601.70,366.93 L602.20,368.32 L602.70,369.65 L603.20,370.92 L603.70,372.14 L604.20,373.30 L604.70,374.40 L605.20,375.44 L605.70,376.42 L606.20,377.34 L606.70,378.19 L607.20,378.99 L607.70,379.72 L608.20,380.39 L608.70,381.00 L609.20,381.54 L609.70,382.02 L610.20,382.44 L610.70,382.80 L611.20,383.08 L611.70,383.31 L612.20,383.47 L612.70,383.57 L613.20,383.60 L613.70,383.56 L614.20,383.46 L614.70,383.28 L615.20,383.04 L615.70,382.72 L616.20,382.34 L616.70,381.88 L617.20,381.36 L617.70,380.77 L618.20,380.11 L618.70,379.38 L619.20,378.58 L619.70,377.72 L620.20,376.78 L620.70,375.78 L621.20,374.72 L621.70,373.59 L622.20,372.40 L622.70,371.14 L623.20,369.81 L623.70,368.43 L624.20,366.98 L624.70,365.47 L625.20,363.90 L625.70,362.27 L626.20,360.59 L626.70,358.84 L627.20,357.04 L627.70,355.18 L628.20,353.27 L628.70,351.30 L629.20,349.28 L629.70,347.21 L630.20,345.08 L630.70,342.91 L631.20,340.69 L631.70,338.42 L632.20,336.11 L632.70,333.75 L633.20,331.35 L633.70,328.90 L634.20,326.42 L634.70,323.89 L635.20,321.33 L635.70,318.72 L636.20,316.09 L636.70,313.42 L637.20,310.71 L637.70,307.98 L638.20,305.22 L638.70,302.42 L639.20,299.60 L639.70,296.76 L640.20,293.89 L640.70,291.00 L641.20,288.09 L641.70,285.16 L642.20,282.21 L642.70,279.24 L643.20,276.26 L643.70,273.27 L644.20,270.27 L644.70,267.25 L645.20,264.23 L645.70,261.21 L646.20,258.17 L646.70,255.14 L647.20,252.10 L647.70,249.06 L648.20,246.03 L648.70,242.99 L649.20,239.97 L649.70,236.95 L650.20,233.93 L650.70,230.93 L651.20,227.94 L651.70,224.96 L652.20,221.99 L652.70,219.04 L653.20,216.11 L653.70,213.20 L654.20,210.31 L654.70,207.44 L655.20,204.60 L655.70,201.78 L656.20,198.98 L656.70,196.22 L657.20,193.49 L657.70,190.78 L658.20,188.11 L658.70,185.48 L659.20,182.87 L659.70,180.31 L660.20,177.78 L660.70,175.30 L661.20,172.85 L661.70,170.45 L662.20,168.09 L662.70,165.78 L663.20,163.51 L663.70,161.29 L664.20,159.12 L664.70,156.99 L665.20,154.92 L665.70,152.90 L666.20,150.93 L666.70,149.02 L667.20,147.16 L667.70,145.36 L668.20,143.61 L668.70,141.93 L669.20,140.30 L669.70,138.73 L670.20,137.22 L670.70,135.77 L671.20,134.39 L671.70,133.06 L672.20,131.80 L672.70,130.61 L673.20,129.48 L673.70,128.42 L674.20,127.42 L674.70,126.48 L675.20,125.62 L675.70,124.82 L676.20,124.09 L676.70,123.43 L677.20,122.84 L677.70,122.32 L678.20,121.86 L678.70,121.48 L679.20,121.16 L679.70,120.92 L680.20,120.74 L680.70,120.64 L681.20,120.60 L681.70,120.64 L682.20,120.75 L682.70,120.93 L683.20,121.18 L683.70,121.51 L684.20,121.90 L684.70,122.37 L685.20,122.91 L685.70,123.53 L686.20,124.21 L686.70,124.96 L687.20,125.79 L687.70,126.68 L688.20,127.65 L688.70,128.68 L689.20,129.78 L689.70,130.94 L690.20,132.18 L690.70,133.48 L691.20,134.84 L691.70,136.27 L692.20,137.77 L692.70,139.33 L693.20,140.94 L693.70,142.63 L694.20,144.37 L694.70,146.17 L695.20,148.03 L695.70,149.94 L696.20,151.91 L696.70,153.94 L697.20,156.02 L697.70,158.16 L698.20,160.35 L698.70,162.58 L699.20,164.87 L699.70,167.20 L700.20,169.59 L700.70,172.01 L701.30,174.98" fill="none" stroke="#ffff00" stroke-width="2.2" stroke-linejoin="round" stroke-linecap="butt" clip-path="url(#pc)"/>
<path d="M374.5,160.7 H441.5 V350.3 H508.5 V160.7 H579.5 V350.3 H647.5 V160.7 H703" fill="none" stroke="#00ffff" stroke-width="2.1" stroke-linejoin="round" clip-path="url(#pc)"/>
</svg>
</body></html>
